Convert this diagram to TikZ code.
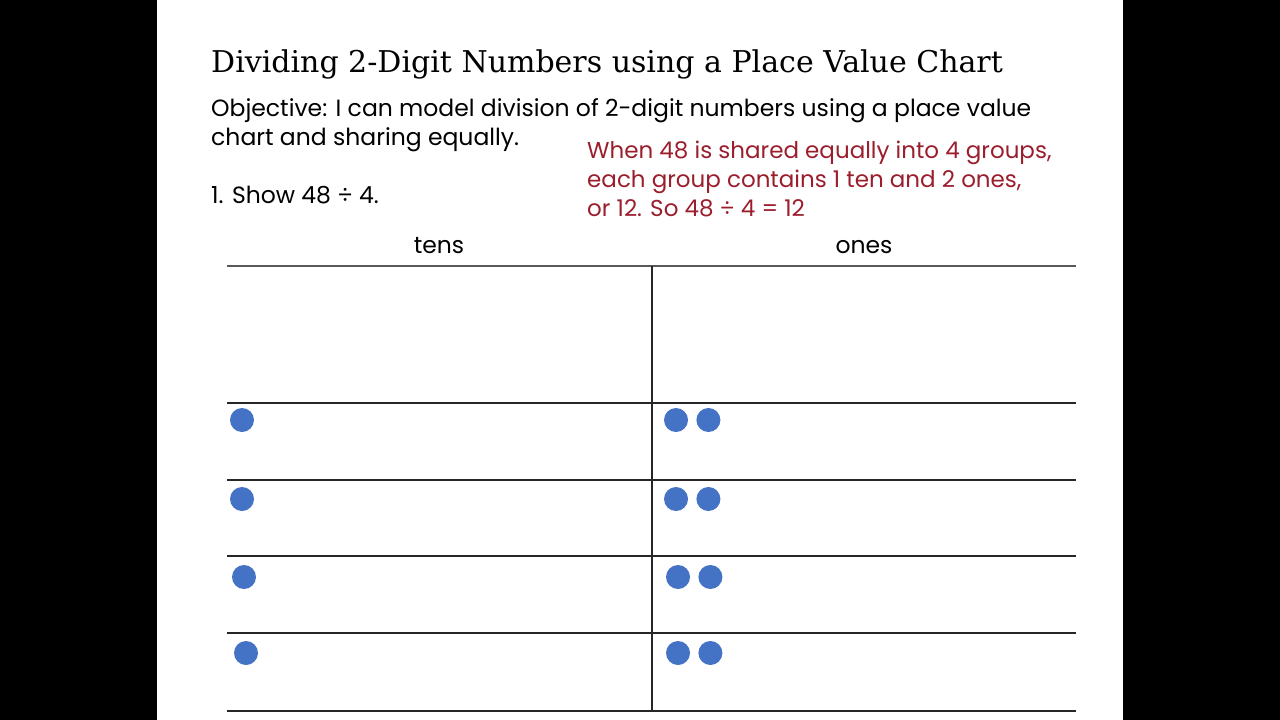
\documentclass[tikz,border=0pt]{standalone}
\usepackage{fontspec}
\setmainfont{Poppins}
\newfontfamily\titlefont{DejaVu Serif}
\usetikzlibrary{positioning}
\definecolor{answerred}{RGB}{155,30,45}
\definecolor{dotblue}{RGB}{68,114,196}

\begin{document}
\begin{tikzpicture}[x=1pt,y=-1pt,
  dot/.style={circle,fill=dotblue,minimum size=24pt,inner sep=0pt},
  rule/.style={line width=1.6pt,black!85},
  line/.style={font=\fontsize{23.5}{28}\selectfont,anchor=base west,inner sep=0pt},
  answer/.style={line,font=\fontsize{23}{28}\selectfont,text=answerred}]
  \useasboundingbox (0,0) rectangle (1280,720);
  \fill[black] (0,0) rectangle (1280,720);
  \fill[white] (157,0) rectangle (1123,720);

  % heading and text
  \node[line,font=\titlefont\fontsize{30}{34}\selectfont] (title) at (211,72)
    {Dividing 2-Digit Numbers using a Place Value Chart};
  \node[line] (objective) at (211,116)
    {Objective: I can model division of 2-digit numbers using a place value};
  \node[line] (objective2) at (211,145) {chart and sharing equally.};
  \node[line] (task) at (211,203) {1. Show 48 ÷ 4.};
  \node[answer] (answer) at (587,158) {When 48 is shared equally into 4 groups,};
  \node[answer] (answer2) at (587,187) {each group contains 1 ten and 2 ones,};
  \node[answer] (answer3) at (587,216) {or 12. So 48 ÷ 4 = 12};
  \node[line,anchor=base] (tens) at (439,253) {tens};
  \node[line,anchor=base] (ones) at (864,253) {ones};

  % place value chart
  \coordinate (chartTL) at (227,266);
  \coordinate (chartTR) at (1076,266);
  \coordinate (splitT) at (652,266);
  \coordinate (splitB) at (652,711);
  \draw[rule,black!65] (chartTL) -- (chartTR);
  \foreach \y in {403,480,556,633,711}
    \draw[rule] (227,\y) -- (1076,\y);
  \draw[rule] (splitT) -- (splitB);

  % one ten and two ones in each group
  \foreach \tx/\ox/\y [count=\g] in {242/676/420,242/676/499,244/678/577,246/678/653} {
    \node[dot] (ten\g) at (\tx,\y) {};
    \node[dot] (one\g a) at (\ox,\y) {};
    \node[dot] (one\g b) [right=8pt of one\g a] {};
  }
\end{tikzpicture}
\end{document}
